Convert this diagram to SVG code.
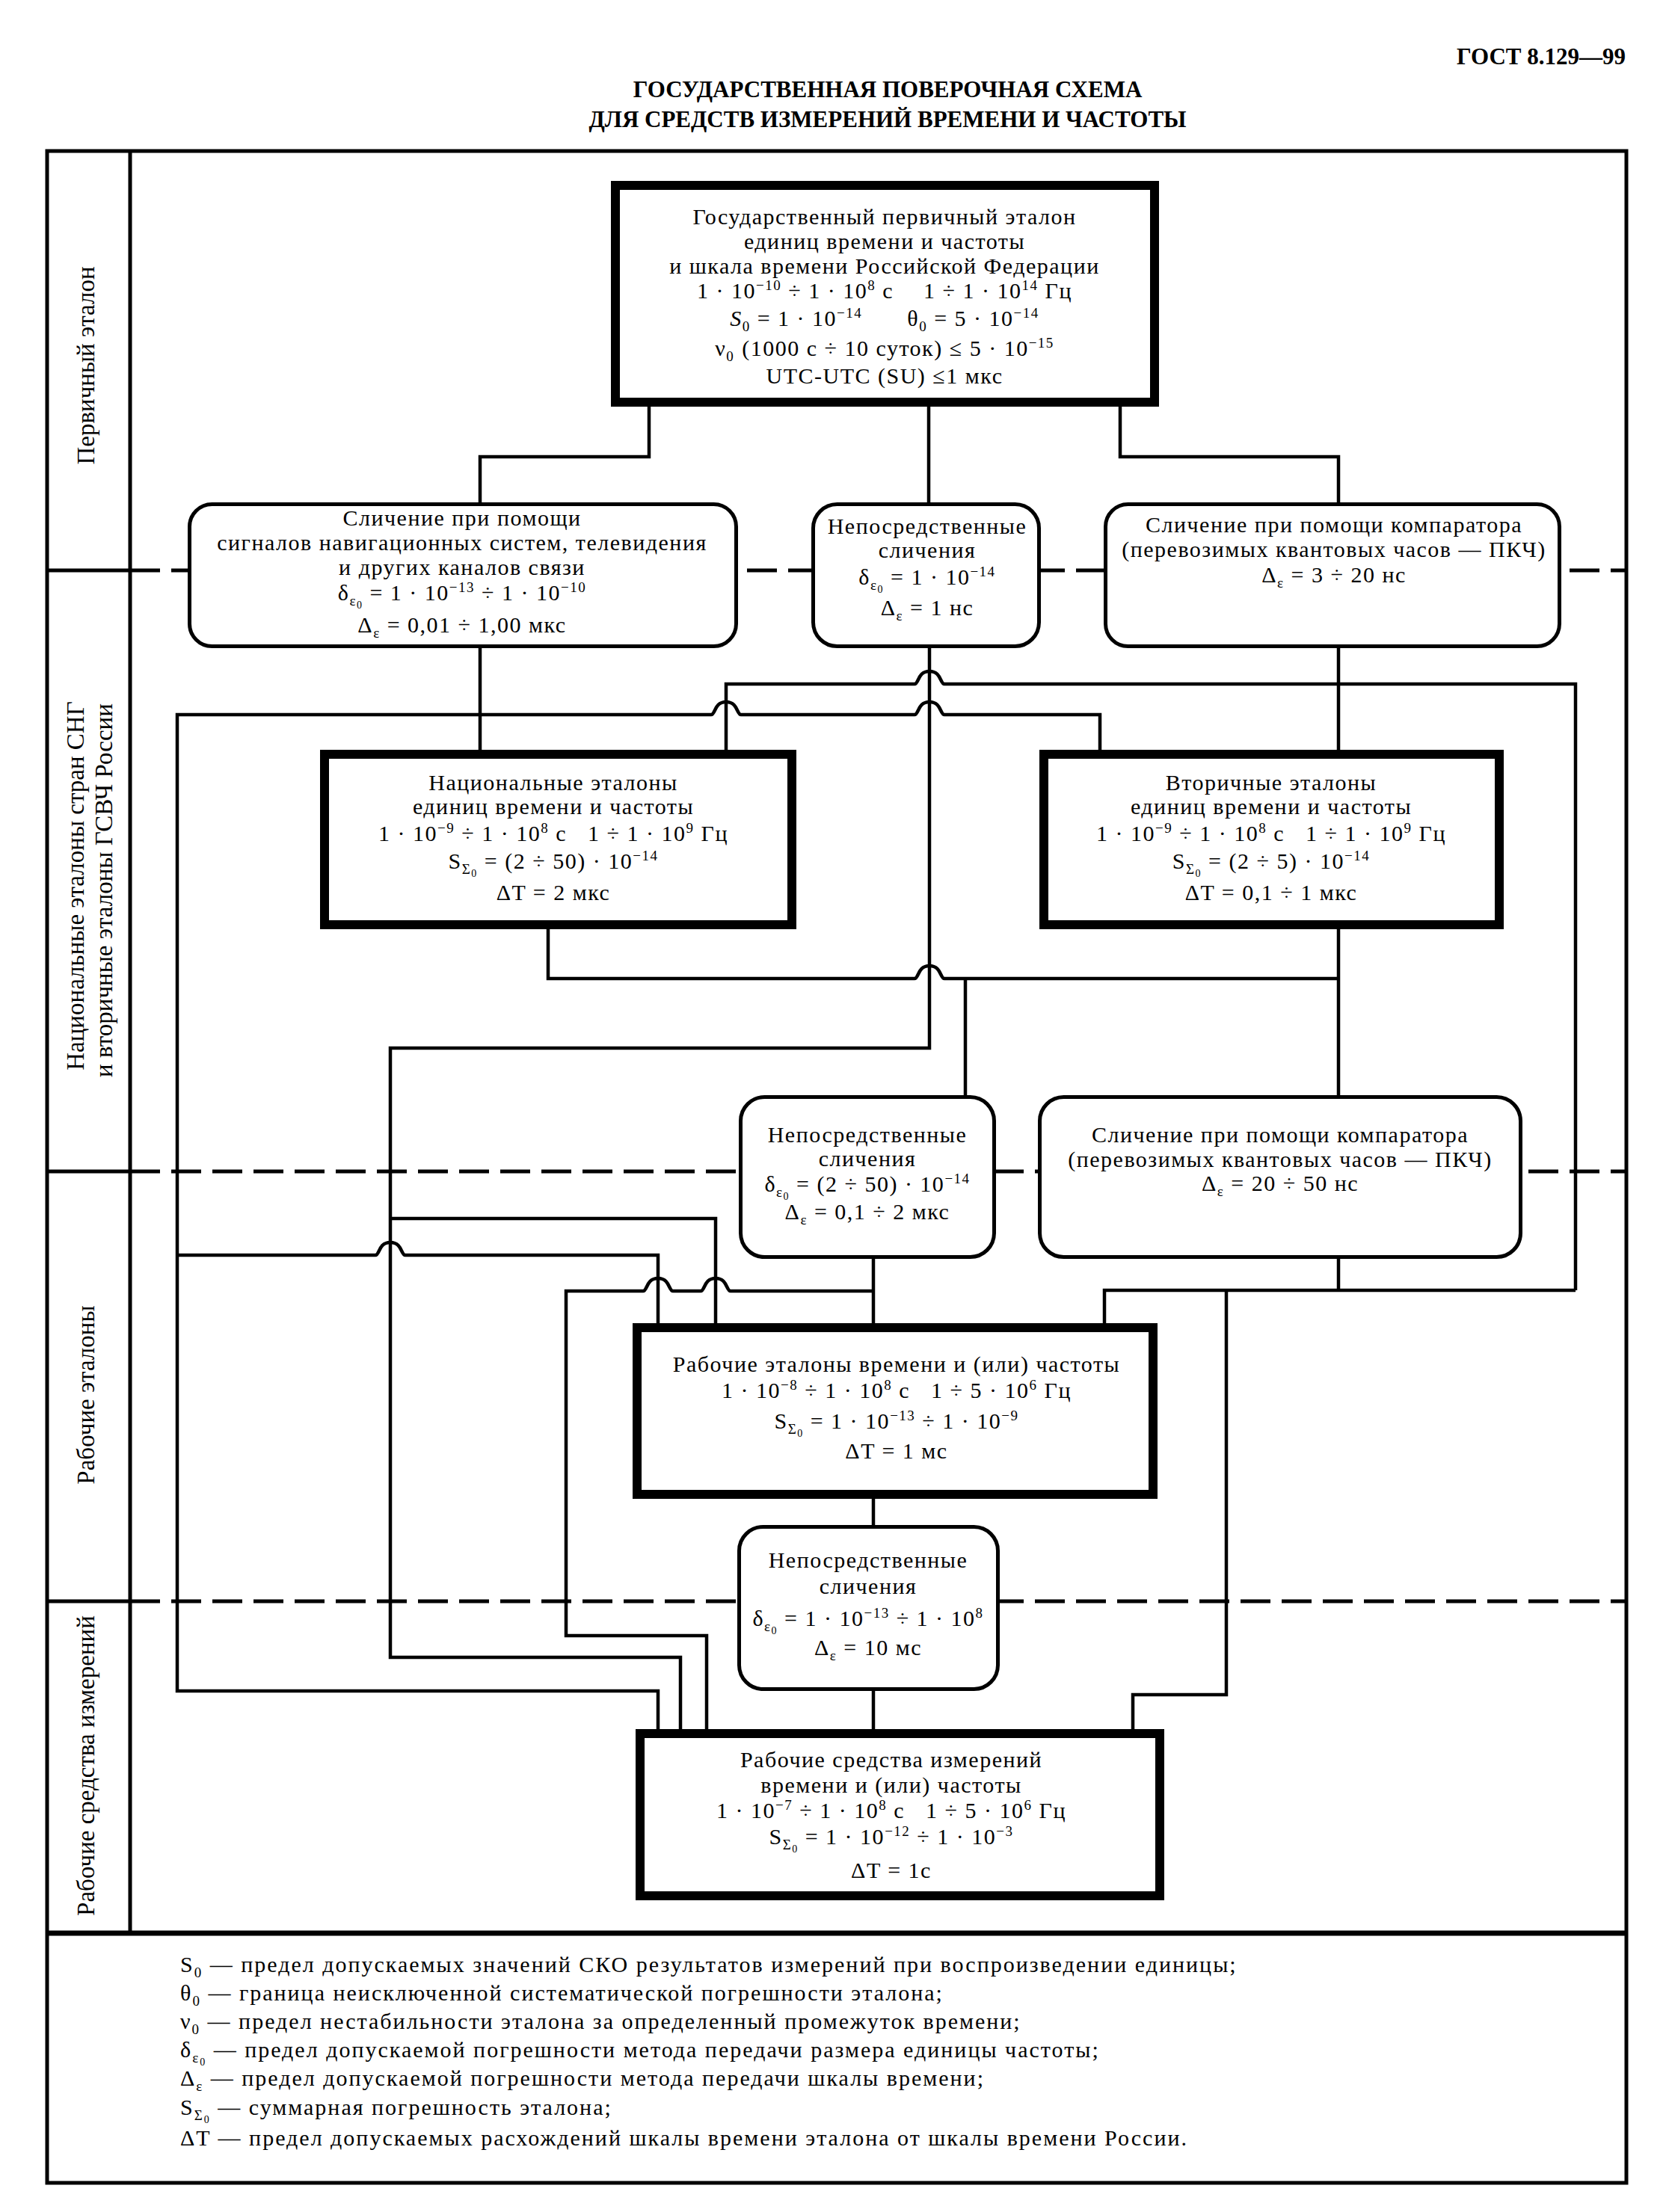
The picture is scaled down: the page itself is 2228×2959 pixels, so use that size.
<svg xmlns="http://www.w3.org/2000/svg" width="2228" height="2959" viewBox="0 0 2228 2959">
<style>
.t{font-family:"Liberation Serif","Times New Roman",serif;font-size:30px;letter-spacing:1.5px;text-anchor:middle;fill:#000}
.lg{font-family:"Liberation Serif","Times New Roman",serif;font-size:30px;letter-spacing:2px;fill:#000}
.hd{font-family:"Liberation Serif","Times New Roman",serif;font-size:31px;font-weight:bold;fill:#000}
.lbl{font-family:"Liberation Serif","Times New Roman",serif;font-size:33px;text-anchor:middle;fill:#000}
.u{font-size:19px}
.b{font-size:19px}
.bb{font-size:14px}
.main{fill:#fff;stroke:#000;stroke-width:12}
.cmp{fill:#fff;stroke:#000;stroke-width:5}
.frame{fill:none;stroke:#000;stroke-width:5}
.dash{fill:none;stroke:#000;stroke-width:5;stroke-dasharray:40 15}
.sol{fill:none;stroke:#000;stroke-width:5}
.con{fill:none;stroke:#000;stroke-width:4.5;stroke-linejoin:miter}
</style>
<rect width="2228" height="2959" fill="#fff"/>

<g id="header">
<text class="hd" x="2174" y="86" text-anchor="end">ГОСТ 8.129—99</text>
<text class="hd" x="1187" y="130" text-anchor="middle">ГОСУДАРСТВЕННАЯ ПОВЕРОЧНАЯ СХЕМА</text>
<text class="hd" x="1187" y="170" text-anchor="middle">ДЛЯ СРЕДСТВ ИЗМЕРЕНИЙ ВРЕМЕНИ И ЧАСТОТЫ</text>
</g>

<g id="frame">
<rect class="frame" x="63" y="202" width="2112" height="2718"/>
<line class="sol" x1="174" y1="202" x2="174" y2="2586"/>
<line x1="63" y1="2586" x2="2175" y2="2586" stroke="#000" stroke-width="7"/>
<line class="sol" x1="63" y1="763" x2="174" y2="763"/>
<line class="dash" x1="174" y1="763" x2="2175" y2="763"/>
<line class="sol" x1="63" y1="1567" x2="174" y2="1567"/>
<line class="dash" x1="174" y1="1567" x2="2175" y2="1567"/>
<line class="sol" x1="63" y1="2142" x2="174" y2="2142"/>
<line class="dash" x1="174" y1="2142" x2="2175" y2="2142"/>
</g>

<g id="level-labels">
<text class="lbl" transform="translate(126,489) rotate(-90)">Первичный эталон</text>
<text class="lbl" transform="translate(112,1185) rotate(-90)">Национальные эталоны стран СНГ</text>
<text class="lbl" transform="translate(150,1191) rotate(-90)">и вторичные эталоны ГСВЧ России</text>
<text class="lbl" transform="translate(126,1866) rotate(-90)">Рабочие эталоны</text>
<text class="lbl" transform="translate(126,2362) rotate(-90)">Рабочие средства измерений</text>
</g>

<g id="connectors">
<path class="con" d="M868,544 V611 H642 V674"/>
<path class="con" d="M1242,544 V674"/>
<path class="con" d="M1498,544 V611 H1790 V674"/>
<path class="con" d="M642,866 V1005"/>
<path class="con" d="M1790,866 V1004"/>
<path class="con" d="M1243,866 V1402 H522 V2217 H910 V2315"/>
<path class="con" d="M971,1005 V915 H1223 C1229,915 1227,898 1243,898 C1259,898 1257,915 1263,915 H2107 V1726"/>
<path class="con" d="M1471,1005 V956 H1263 C1257,956 1259,939 1243,939 C1227,939 1229,956 1223,956 H991 C985,956 987,939 971,939 C955,939 957,956 951,956 H237 V2262 H880 V2315"/>
<path class="con" d="M733,1242 V1309 H1223 C1229,1309 1227,1292 1243,1292 C1259,1292 1257,1309 1263,1309 H1790"/>
<path class="con" d="M1790,1243 V1467"/>
<path class="con" d="M1291,1309 V1467"/>
<path class="con" d="M522,1630 H957 V1772"/>
<path class="con" d="M237,1679 H502 C508,1679 506,1662 522,1662 C538,1662 536,1679 542,1679 H880 V1772"/>
<path class="con" d="M1168,1683 V1772"/>
<path class="con" d="M1168,1727 H977 C971,1727 973,1710 957,1710 C941,1710 943,1727 937,1727 H900 C894,1727 896,1710 880,1710 C864,1710 866,1727 860,1727 H757 V2188 H945 V2315"/>
<path class="con" d="M1790,1684 V1726"/>
<path class="con" d="M1477,1772 V1726 H2107"/>
<path class="con" d="M1640,1726 V2267 H1515 V2315"/>
<path class="con" d="M1168,2005 V2042"/>
<path class="con" d="M1168,2262 V2315"/>
</g>

<g id="primary-standard">
<rect class="main" x="823" y="248" width="721" height="290"/>
<text class="t" x="1183" y="300">Государственный первичный эталон</text>
<text class="t" x="1183" y="333">единиц времени и частоты</text>
<text class="t" x="1183" y="366">и шкала времени Российской Федерации</text>
<text class="t" x="1183" y="399">1 · 10<tspan class="u" dy="-11">−10</tspan><tspan dy="11"> ÷ 1 · 10</tspan><tspan class="u" dy="-11">8</tspan><tspan dy="11"> с</tspan><tspan dx="40">1 ÷ 1 · 10</tspan><tspan class="u" dy="-11">14</tspan><tspan dy="11"> Гц</tspan></text>
<text class="t" x="1183" y="436"><tspan font-style="italic">S</tspan><tspan class="b" dy="7">0</tspan><tspan dy="-7"> = 1 · 10</tspan><tspan class="u" dy="-11">−14</tspan><tspan dy="11" dx="60">θ</tspan><tspan class="b" dy="7">0</tspan><tspan dy="-7"> = 5 · 10</tspan><tspan class="u" dy="-11">−14</tspan></text>
<text class="t" x="1183" y="476">ν<tspan class="b" dy="7">0</tspan><tspan dy="-7" dx="10">(1000 с ÷ 10 суток) ≤ 5 · 10</tspan><tspan class="u" dy="-11">−15</tspan></text>
<text class="t" x="1183" y="513">UTC-UTC (SU) ≤1 мкс</text>
</g>

<g id="compare-navigation">
<rect class="cmp" x="253.5" y="674.5" width="731" height="190" rx="30"/>
<text class="t" x="618" y="703">Сличение при помощи</text>
<text class="t" x="618" y="736">сигналов навигационных систем, телевидения</text>
<text class="t" x="618" y="769">и других каналов связи</text>
<text class="t" x="618" y="803">δ<tspan class="b" dy="7">ε</tspan><tspan class="bb" dy="4">0</tspan><tspan dy="-11"> = 1 · 10</tspan><tspan class="u" dy="-11">−13</tspan><tspan dy="11"> ÷ 1 · 10</tspan><tspan class="u" dy="-11">−10</tspan></text>
<text class="t" x="618" y="846">Δ<tspan class="b" dy="7">ε</tspan><tspan dy="-7"> = 0,01 ÷ 1,00 мкс</tspan></text>
</g>

<g id="compare-direct-1">
<rect class="cmp" x="1087.5" y="674.5" width="302" height="190" rx="32"/>
<text class="t" x="1240" y="714">Непосредственные</text>
<text class="t" x="1240" y="746">сличения</text>
<text class="t" x="1240" y="782">δ<tspan class="b" dy="7">ε</tspan><tspan class="bb" dy="4">0</tspan><tspan dy="-11"> = 1 · 10</tspan><tspan class="u" dy="-11">−14</tspan></text>
<text class="t" x="1240" y="823">Δ<tspan class="b" dy="7">ε</tspan><tspan dy="-7"> = 1 нс</tspan></text>
</g>

<g id="compare-comparator-1">
<rect class="cmp" x="1478.5" y="674.5" width="607" height="190" rx="30"/>
<text class="t" x="1784" y="712">Сличение при помощи компаратора</text>
<text class="t" x="1784" y="745">(перевозимых квантовых часов — ПКЧ)</text>
<text class="t" x="1784" y="779">Δ<tspan class="b" dy="7">ε</tspan><tspan dy="-7"> = 3 ÷ 20 нс</tspan></text>
</g>

<g id="national-standards">
<rect class="main" x="434" y="1009" width="625" height="228"/>
<text class="t" x="740" y="1057">Национальные эталоны</text>
<text class="t" x="740" y="1089">единиц времени и частоты</text>
<text class="t" x="740" y="1125">1 · 10<tspan class="u" dy="-11">−9</tspan><tspan dy="11"> ÷ 1 · 10</tspan><tspan class="u" dy="-11">8</tspan><tspan dy="11"> с</tspan><tspan dx="28">1 ÷ 1 · 10</tspan><tspan class="u" dy="-11">9</tspan><tspan dy="11"> Гц</tspan></text>
<text class="t" x="740" y="1162">S<tspan class="b" dy="7">Σ</tspan><tspan class="bb" dy="4">0</tspan><tspan dy="-11"> = (2 ÷ 50) · 10</tspan><tspan class="u" dy="-11">−14</tspan></text>
<text class="t" x="740" y="1204">ΔT = 2 мкс</text>
</g>

<g id="secondary-standards">
<rect class="main" x="1396" y="1009" width="609" height="228"/>
<text class="t" x="1700" y="1057">Вторичные эталоны</text>
<text class="t" x="1700" y="1089">единиц времени и частоты</text>
<text class="t" x="1700" y="1125">1 · 10<tspan class="u" dy="-11">−9</tspan><tspan dy="11"> ÷ 1 · 10</tspan><tspan class="u" dy="-11">8</tspan><tspan dy="11"> с</tspan><tspan dx="28">1 ÷ 1 · 10</tspan><tspan class="u" dy="-11">9</tspan><tspan dy="11"> Гц</tspan></text>
<text class="t" x="1700" y="1162">S<tspan class="b" dy="7">Σ</tspan><tspan class="bb" dy="4">0</tspan><tspan dy="-11"> = (2 ÷ 5) · 10</tspan><tspan class="u" dy="-11">−14</tspan></text>
<text class="t" x="1700" y="1204">ΔT = 0,1 ÷ 1 мкс</text>
</g>

<g id="compare-direct-2">
<rect class="cmp" x="990.5" y="1467.5" width="339" height="214" rx="32"/>
<text class="t" x="1160" y="1528">Непосредственные</text>
<text class="t" x="1160" y="1560">сличения</text>
<text class="t" x="1160" y="1594">δ<tspan class="b" dy="7">ε</tspan><tspan class="bb" dy="4">0</tspan><tspan dy="-11"> = (2 ÷ 50) · 10</tspan><tspan class="u" dy="-11">−14</tspan></text>
<text class="t" x="1160" y="1631">Δ<tspan class="b" dy="7">ε</tspan><tspan dy="-7"> = 0,1 ÷ 2 мкс</tspan></text>
</g>

<g id="compare-comparator-2">
<rect class="cmp" x="1390.5" y="1467.5" width="643" height="214" rx="32"/>
<text class="t" x="1712" y="1528">Сличение при помощи компаратора</text>
<text class="t" x="1712" y="1561">(перевозимых квантовых часов — ПКЧ)</text>
<text class="t" x="1712" y="1593">Δ<tspan class="b" dy="7">ε</tspan><tspan dy="-7"> = 20 ÷ 50 нс</tspan></text>
</g>

<g id="working-standards">
<rect class="main" x="852" y="1776" width="690" height="223"/>
<text class="t" x="1199" y="1835">Рабочие эталоны времени и (или) частоты</text>
<text class="t" x="1199" y="1870">1 · 10<tspan class="u" dy="-11">−8</tspan><tspan dy="11"> ÷ 1 · 10</tspan><tspan class="u" dy="-11">8</tspan><tspan dy="11"> с</tspan><tspan dx="28">1 ÷ 5 · 10</tspan><tspan class="u" dy="-11">6</tspan><tspan dy="11"> Гц</tspan></text>
<text class="t" x="1199" y="1911">S<tspan class="b" dy="7">Σ</tspan><tspan class="bb" dy="4">0</tspan><tspan dy="-11"> = 1 · 10</tspan><tspan class="u" dy="-11">−13</tspan><tspan dy="11"> ÷ 1 · 10</tspan><tspan class="u" dy="-11">−9</tspan></text>
<text class="t" x="1199" y="1951">ΔT = 1 мс</text>
</g>

<g id="compare-direct-3">
<rect class="cmp" x="988.5" y="2042.5" width="346" height="217" rx="32"/>
<text class="t" x="1161" y="2097">Непосредственные</text>
<text class="t" x="1161" y="2132">сличения</text>
<text class="t" x="1161" y="2175">δ<tspan class="b" dy="7">ε</tspan><tspan class="bb" dy="4">0</tspan><tspan dy="-11"> = 1 · 10</tspan><tspan class="u" dy="-11">−13</tspan><tspan dy="11"> ÷ 1 · 10</tspan><tspan class="u" dy="-11">8</tspan></text>
<text class="t" x="1161" y="2214">Δ<tspan class="b" dy="7">ε</tspan><tspan dy="-7"> = 10 мс</tspan></text>
</g>

<g id="working-instruments">
<rect class="main" x="856" y="2319" width="695" height="217"/>
<text class="t" x="1192" y="2364">Рабочие средства измерений</text>
<text class="t" x="1192" y="2398">времени и (или) частоты</text>
<text class="t" x="1192" y="2432">1 · 10<tspan class="u" dy="-11">−7</tspan><tspan dy="11"> ÷ 1 · 10</tspan><tspan class="u" dy="-11">8</tspan><tspan dy="11"> с</tspan><tspan dx="28">1 ÷ 5 · 10</tspan><tspan class="u" dy="-11">6</tspan><tspan dy="11"> Гц</tspan></text>
<text class="t" x="1192" y="2467">S<tspan class="b" dy="7">Σ</tspan><tspan class="bb" dy="4">0</tspan><tspan dy="-11"> = 1 · 10</tspan><tspan class="u" dy="-11">−12</tspan><tspan dy="11"> ÷ 1 · 10</tspan><tspan class="u" dy="-11">−3</tspan></text>
<text class="t" x="1192" y="2512">ΔT = 1с</text>
</g>

<g id="legend">
<text class="lg" x="241" y="2638">S<tspan class="b" dy="7">0</tspan><tspan dy="-7"> — предел допускаемых значений СКО результатов измерений при воспроизведении единицы;</tspan></text>
<text class="lg" x="241" y="2676">θ<tspan class="b" dy="7">0</tspan><tspan dy="-7"> — граница неисключенной систематической погрешности эталона;</tspan></text>
<text class="lg" x="241" y="2714">ν<tspan class="b" dy="7">0</tspan><tspan dy="-7"> — предел нестабильности эталона за определенный промежуток времени;</tspan></text>
<text class="lg" x="241" y="2752">δ<tspan class="b" dy="7">ε</tspan><tspan class="bb" dy="4">0</tspan><tspan dy="-11"> — предел допускаемой погрешности метода передачи размера единицы частоты;</tspan></text>
<text class="lg" x="241" y="2790">Δ<tspan class="b" dy="7">ε</tspan><tspan dy="-7"> — предел допускаемой погрешности метода передачи шкалы времени;</tspan></text>
<text class="lg" x="241" y="2829">S<tspan class="b" dy="7">Σ</tspan><tspan class="bb" dy="4">0</tspan><tspan dy="-11"> — суммарная погрешность эталона;</tspan></text>
<text class="lg" x="241" y="2870">ΔT — предел допускаемых расхождений шкалы времени эталона от шкалы времени России.</text>
</g>
</svg>
